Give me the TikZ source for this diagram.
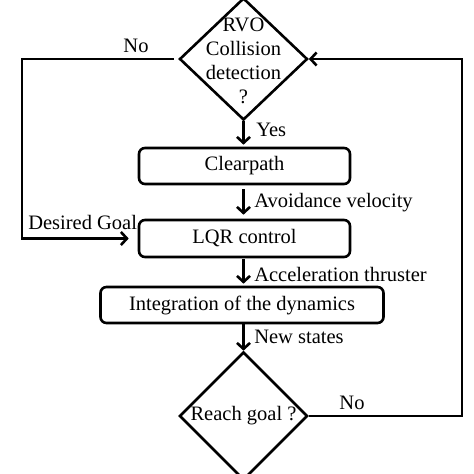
\documentclass[tikz,border=0pt]{standalone}
\usepackage{fontspec}
\setmainfont{Liberation Serif}
\usetikzlibrary{arrows.meta,shapes.geometric}
\begin{document}
\begin{tikzpicture}[x=1pt,y=-1pt, line width=2.6pt,
  every node/.style={font=\fontsize{20.5}{24}\selectfont, inner sep=0pt},
  box/.style={draw, rounded corners=6pt, minimum height=36pt},
  dec/.style={draw, diamond, minimum width=128pt, minimum height=122pt},
  arr/.style={-{Straight Barb[length=6pt,width=13pt,line width=2.6pt]}},
  lbl/.style={anchor=west}]
\useasboundingbox (0,0) rectangle (474,474);
\clip (0,0) rectangle (474,474);
% decisions and boxes
\node[dec] (d1) at (243.5,59) {};
\node[align=center] (t1) at (243.5,61) {RVO\\Collision\\detection\\?};
\node[box, minimum width=211pt] (b1) at (244.5,166) {Clearpath};
\node[box, minimum width=211pt, minimum height=37pt] (b2) at (244.5,238.5) {LQR control};
\node[box, minimum width=283pt] (b3) at (242,305) {Integration of the dynamics};
\node[dec, minimum height=128pt] (d2) at (243.5,416) {};
\node (t2) at (243.5,416) {Reach goal ?};
% vertical flow
\draw[arr, shorten >=2pt] (d1.south) -- (d1.south |- b1.north);
\draw[arr, shorten <=4pt, shorten >=4pt] (d1.south |- b1.south) -- (d1.south |- b2.north);
\draw[arr, shorten <=1pt, shorten >=2pt] (d1.south |- b2.south) -- (d1.south |- b3.north);
\draw[arr] (d1.south |- b3.south) -- (d2.north);
% loops
\coordinate (cL1) at (22,59);
\coordinate (cL2) at (22,238.5);
\draw[arr, shorten <=4pt, shorten >=9pt] (d1.west) -- (cL1) -- (cL2) -- (b2.west);
\coordinate (cR) at (462,416);
\draw[arr] (d2.east) -- (cR) -- (cR |- d1.east) -- (d1.east);
% labels
\node at (136,46) {No};
\node at (352,403) {No};
\node[lbl] at (255,130) {Yes};
\node[lbl] at (27,222) {Desired Goal};
\node[lbl] at (253,203) {Avoidance velocity};
\node[lbl] at (253,274) {Acceleration thruster};
\node[lbl] at (253,337) {New states};
\end{tikzpicture}
\end{document}
